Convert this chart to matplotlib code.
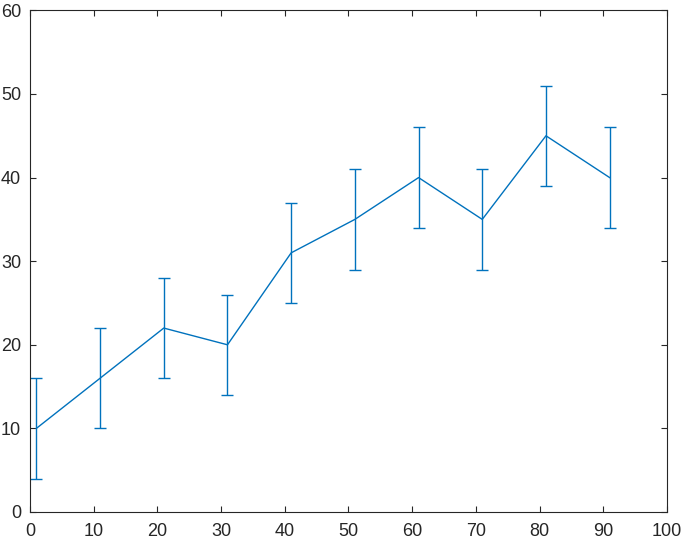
import matplotlib
matplotlib.use("Agg")
import matplotlib.pyplot as plt

x = [1, 11, 21, 31, 41, 51, 61, 71, 81, 91]
y = [10, 16, 22, 20, 31, 35, 40, 35, 45, 40]
err = [6, 6, 6, 6, 6, 6, 6, 6, 6, 6]

plt.rcParams["font.family"] = ["Liberation Sans", "DejaVu Sans"]
fig = plt.figure(figsize=(6.85, 5.47), dpi=100)
ax = fig.add_axes([0.0438, 0.064, 0.9299, 0.917])
ax.errorbar(x, y, yerr=err, color="#0072BD", lw=1.0, elinewidth=1.0,
            capsize=4.3, capthick=1.0)
ax.set_xlim(0, 100)
ax.set_ylim(0, 60)
ax.set_xticks(range(0, 101, 10))
ax.set_yticks(range(0, 61, 10))
for s in ax.spines.values():
    s.set_color("#262626")
    s.set_linewidth(0.8)
ax.tick_params(direction="in", top=True, right=True, length=4.5, width=0.8,
               color="#262626", labelcolor="#262626", labelsize=13)
ax.tick_params(axis="x", pad=8)
ax.tick_params(axis="y", pad=6.5)
fig.savefig("out.png", dpi=100)
